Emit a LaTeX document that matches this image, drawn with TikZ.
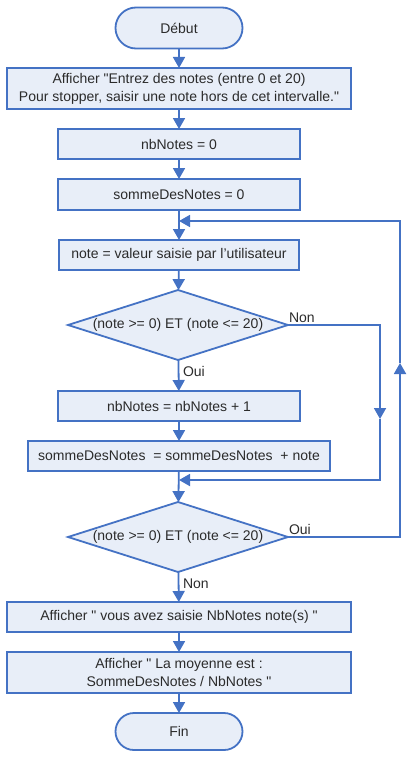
\documentclass[tikz,border=0pt]{standalone}
\usepackage{fontspec}
\setmainfont{Liberation Sans}[Ligatures=TeXOff]
\usetikzlibrary{shapes.geometric,shapes.misc,arrows.meta}
\definecolor{flowblue}{HTML}{4472C4}
\definecolor{flowfill}{HTML}{E8EEF8}
\definecolor{flowtext}{HTML}{2B2B2B}
\begin{document}
\begin{tikzpicture}[x=1pt,y=-1pt,
  font=\fontsize{14}{18}\selectfont,
  every node/.style={inner sep=0pt,outer sep=0pt,text=flowtext},
  procbox/.style={draw=flowblue,fill=flowfill,line width=1.8pt,rectangle,align=center},
  termbox/.style={draw=flowblue,fill=flowfill,line width=1.8pt,rounded rectangle,minimum width=127pt},
  decbox/.style={draw=flowblue,fill=flowfill,line width=1.8pt,diamond,aspect=3.14,minimum width=220pt,minimum height=70pt},
  flow/.style={draw=flowblue,line width=1.8pt,-{Triangle[width=12pt,length=11pt]}},
  lab/.style={anchor=south west}
]
\useasboundingbox (0,0) rectangle (420,760);
\node[termbox,minimum height=41pt] (start) at (179,28) {Début};
\node[procbox,minimum width=344pt,minimum height=41pt] (aff1) at (179,88.5) {Afficher "Entrez des notes (entre 0 et 20)\\Pour stopper, saisir une note hors de cet intervalle."};
\node[procbox,minimum width=242pt,minimum height=30pt] (nb0) at (179,144) {nbNotes = 0};
\node[procbox,minimum width=242pt,minimum height=31pt] (som0) at (179,194.5) {sommeDesNotes = 0};
\node[procbox,minimum width=240pt,minimum height=30pt] (saisie) at (179,255) {note = valeur saisie par l’utilisateur};
\node[decbox] (d1) at (178,325) {(note >= 0) ET (note <= 20)};
\node[procbox,minimum width=242pt,minimum height=30pt] (inc) at (179,406) {nbNotes = nbNotes + 1};
\node[procbox,minimum width=302pt,minimum height=30pt] (add) at (179,456) {sommeDesNotes\ \ = sommeDesNotes\ \ + note};
\node[decbox] (d2) at (178,537) {(note >= 0) ET (note <= 20)};
\node[procbox,minimum width=344pt,minimum height=30pt] (aff2) at (179,617) {Afficher " vous avez saisie NbNotes note(s) "};
\node[procbox,minimum width=344pt,minimum height=41pt] (aff3) at (179,672.5) {Afficher " La moyenne est :\\SommeDesNotes / NbNotes "};
\node[termbox,minimum height=37pt] (fin) at (179,731.5) {Fin};

\coordinate (j1) at (179,221);
\coordinate (j2) at (179,480);
\coordinate (r1) at (380,325);
\coordinate (r1m) at (380,419);
\coordinate (r1b) at (380,480);
\coordinate (r2) at (400,537);
\coordinate (r2m) at (400,363);
\coordinate (r2t) at (400,221);

\draw[flow] (start) -- (aff1);
\draw[flow] (aff1) -- (nb0);
\draw[flow] (nb0) -- (som0);
\draw[flow] (som0) -- (saisie);
\draw[flow] (saisie) -- (d1);
\draw[flow] (d1) -- (inc);
\draw[flow] (inc) -- (add);
\draw[flow] (add) -- (d2);
\draw[flow] (d2) -- (aff2);
\draw[flow] (aff2) -- (aff3);
\draw[flow] (aff3) -- (fin);

\draw[flow] (d1.east) -- (r1) -- (r1m);
\draw[flow] (r1m) -- (r1b) -- (j2);
\draw[flow] (d2.east) -- (r2) -- (r2m);
\draw[flow] (r2m) -- (r2t) -- (j1);

\node[lab] (non1) at (289,323) {Non};
\node[lab] (oui1) at (183,377) {Oui};
\node[lab] (oui2) at (289,535) {Oui};
\node[lab] (non2) at (183,589) {Non};
\end{tikzpicture}
\end{document}
